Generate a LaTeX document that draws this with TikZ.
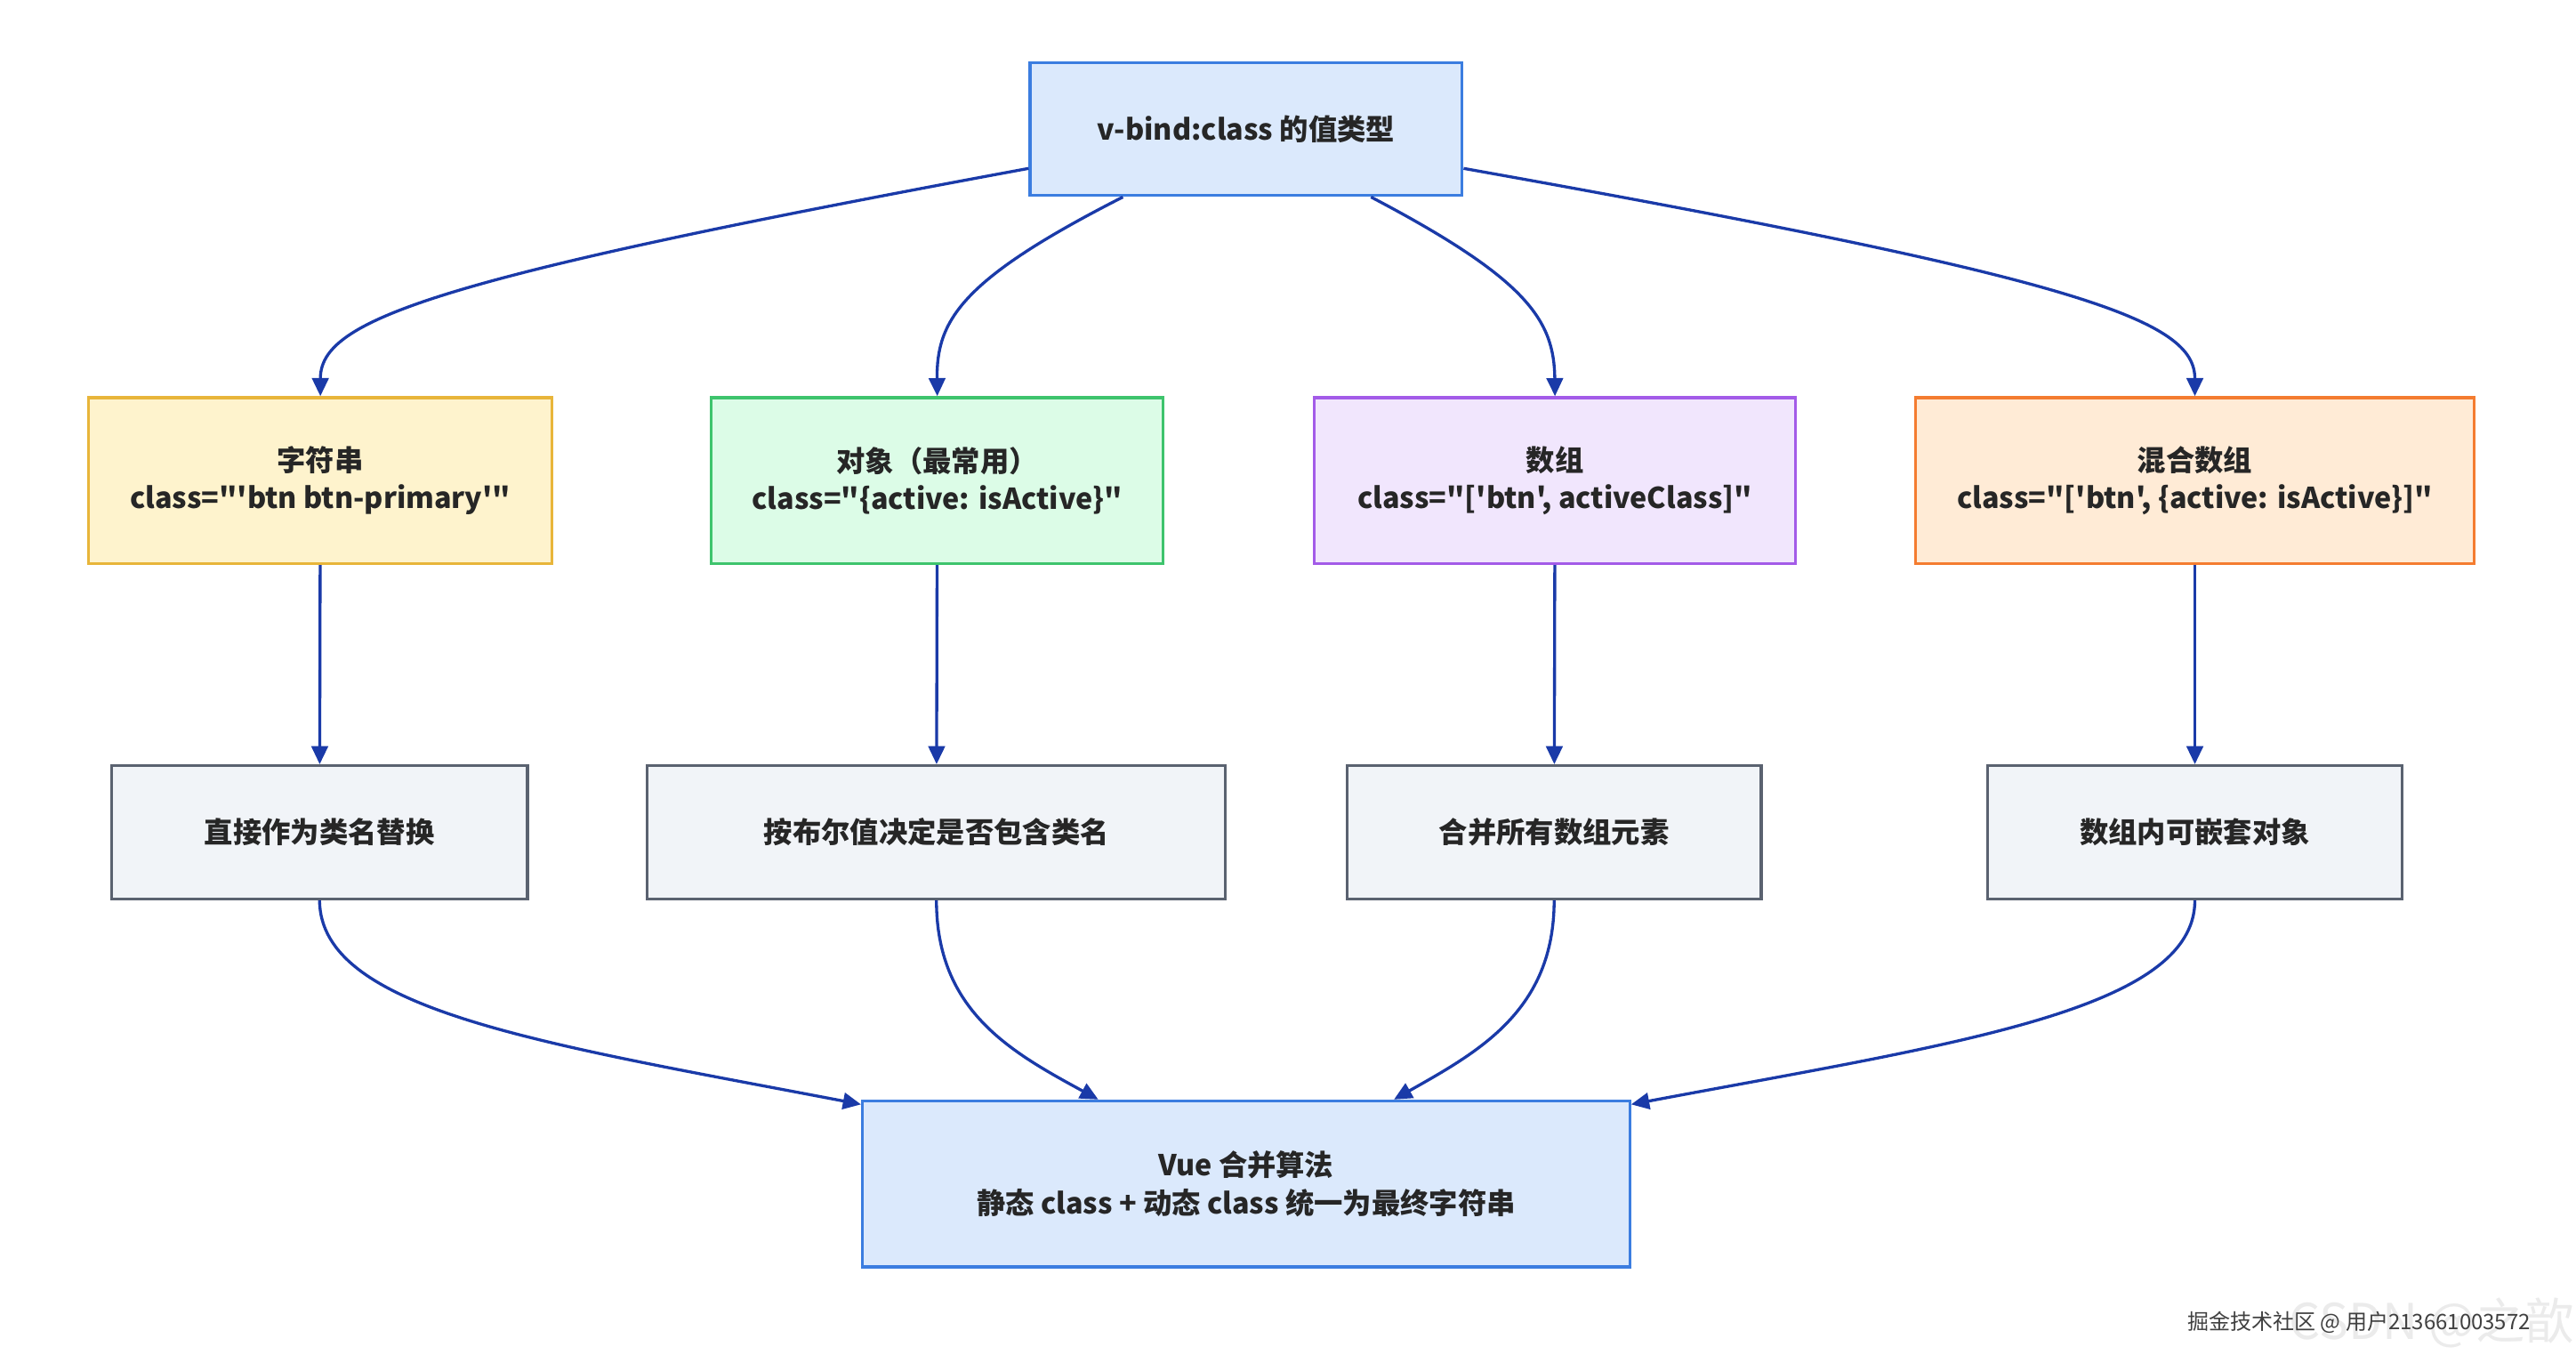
\documentclass[tikz,border=0pt]{standalone}
\usepackage{fontspec}
\newfontfamily\nsc{Noto Sans CJK SC}
\usepackage{xcolor}
\usetikzlibrary{arrows.meta,calc}
\definecolor{lineblue}{HTML}{1A3AA8}
\definecolor{topfill}{HTML}{DBE9FC}\definecolor{topdraw}{HTML}{3B7DE0}
\definecolor{yfill}{HTML}{FEF3CD}\definecolor{ydraw}{HTML}{E8B53A}
\definecolor{gfill}{HTML}{DCFCE7}\definecolor{gdraw}{HTML}{3EC46D}
\definecolor{pfill}{HTML}{F1E6FD}\definecolor{pdraw}{HTML}{A35BE8}
\definecolor{ofill}{HTML}{FFEBD6}\definecolor{odraw}{HTML}{F47C30}
\definecolor{rfill}{HTML}{F1F4F8}\definecolor{rdraw}{HTML}{5A6270}
\tikzset{
  box/.style={rectangle,draw,line width=1.8pt,align=center,inner sep=0pt,
    font={\nsc\fontsize{17.5}{23}\selectfont\bfseries},text=black!85},
  link/.style={-{Triangle[length=11pt,width=10pt]},color=lineblue,line width=1.8pt},
}
\begin{document}
\begin{tikzpicture}[x=1pt,y=-1pt]
    	\useasboundingbox (0,0) rectangle (1568,834);
    	
    	\node[box,fill=topfill,draw=topdraw,minimum width=263pt,minimum height=81pt] 
    	(top) at (758.5,78.5) {v-bind:class 的值类型};
    	
    	\foreach \i/\x/\w/\f/\d/\name in {
    		1/195/282/yfill/ydraw/{字符串\\class="'btn btn-primary'"},
    		2/570.5/275/gfill/gdraw/{对象（最常用）\\class="\{active: isActive\}"},
    		3/946.5/293/pfill/pdraw/{数组\\class="['btn', activeClass]"},
    		4/1336/340/ofill/odraw/{混合数组\\class="['btn', \{active: isActive\}]"}}{
    		\node[box,fill=\f,draw=\d,minimum width=\w pt,minimum height=101pt] 
    		(s\i) at (\x,292.5){\name};
    	}
    	
    	\foreach \i/\x/\w/\name in {1/194.5/253/直接作为类名替换,2/570/352/按布尔值决定是否包含类名,
    		3/946/252/合并所有数组元素,4/1336/252/数组内可嵌套对象}{
    		\node[box,fill=rfill,draw=rdraw,minimum width=\w pt,minimum height=81pt] 
    		(r\i) at (\x,506.5){\name};
    	}
    	
    	\node[box,fill=topfill,draw=topdraw,minimum width=467pt,minimum height=101pt] 
    	(bot) at (758.5,720.5) {Vue 合并算法\\静态 class + 动态 class 统一为最终字符串};
    	
    	\draw[link] ([yshift=-24pt]top.west) .. controls (260,170) and (195,195) .. (s1.north);
    	\draw[link] ([xshift=-75pt]top.south) .. controls (585,170) and (570,195) .. (s2.north);
    	\draw[link] ([xshift=76pt]top.south) .. controls (930,170) and (946,195) .. (s3.north);
    	\draw[link] ([yshift=-24pt]top.east) .. controls (1270,170) and (1336,195) .. (s4.north);
    	
    	\foreach \i in {1,2,3,4}{
    		\draw[link] (s\i) -- (r\i);}
    	
    	\draw[link] (r1.south) .. controls (195,615) and (330,635) .. ([yshift=-3pt]bot.north west);
    	\draw[link] (r2.south) .. controls (570,615) and (615,640) .. ([xshift=-90pt]bot.north);
    	\draw[link] (r3.south) .. controls (946,615) and (900,640) .. ([xshift=90pt]bot.north);
    	\draw[link] (r4.south) .. controls (1336,615) and (1190,635) .. ([yshift=-3pt]bot.north east);
    	
    	% watermark
    	\node[text=black!8,font={\nsc\fontsize{30}{30}\selectfont}] (wm2) at (1480,805) {CSDN @之歆};
    	\node[text=black!75,font={\nsc\fontsize{13}{13}\selectfont}] (wm1) at (1436,805) {掘金技术社区 @ 用户213661003572};
    \end{tikzpicture}
\end{document}
